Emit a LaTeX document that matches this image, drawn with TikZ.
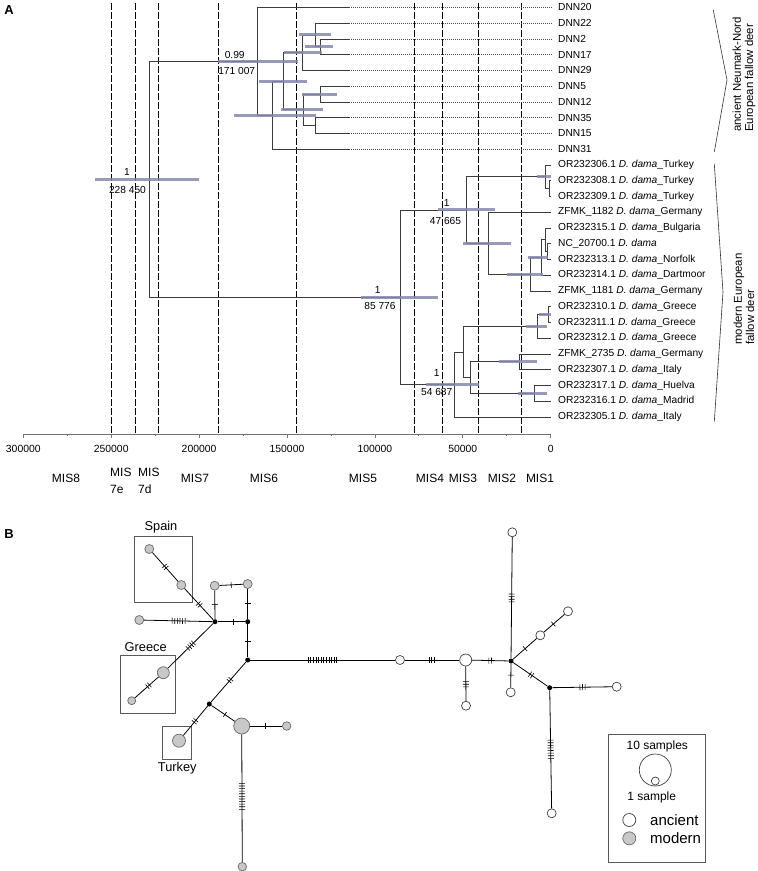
\documentclass[tikz,border=0pt]{standalone}
\usepackage{fontspec}
\setmainfont{Liberation Sans}
\usetikzlibrary{calc}
\definecolor{branch}{HTML}{3C3C3C}
\definecolor{hpd}{HTML}{8589AC}
\definecolor{modfill}{HTML}{C8C8C8}
\definecolor{nodeline}{HTML}{6A6A6A}
\newcommand\dd{\textit{D. dama}}
\newcommand\hatches[4]{%
  \foreach \hk in {1,...,#3}{%
    \pgfmathsetmacro\hoff{(\hk-(#3+1)/2)*2.6}%
    \coordinate (hc) at ($(#1)!#4!(#2)$);
    \coordinate (hq) at ($(hc)!\hoff pt!(#2)$);
    \draw[hatchline] ($(hq)!3pt!90:(#2)$) -- ($(hq)!3pt!-90:(#2)$);
  }}
\tikzset{
  br/.style={draw=branch, line width=0.8pt},
  hpdbar/.style={draw=hpd, line width=3pt, opacity=0.85},
  misline/.style={draw=black, line width=1pt, dash pattern=on 7pt off 2pt},
  dotln/.style={draw=black!70, line width=0.6pt, dash pattern=on 1pt off 1pt},
  tiplab/.style={anchor=west, inner sep=0, font=\fontsize{10.2}{12}\selectfont},
  ticklab/.style={inner sep=0, font=\fontsize{10.4}{12}\selectfont},
  mislab/.style={inner sep=0, font=\fontsize{12}{16.5}\selectfont},
  supl/.style={inner sep=0, font=\fontsize{10.2}{12}\selectfont},
  axisln/.style={draw=black!55, line width=0.8pt},
  bracketln/.style={draw=black!80, line width=0.6pt},
  cladelab/.style={inner sep=0, rotate=90, anchor=west, align=left, font=\fontsize{11.4}{12.3}\selectfont},
  gnode/.style={circle, draw=nodeline, fill=modfill, line width=0.7pt, inner sep=0, minimum size=#1},
  wnode/.style={circle, draw=black!75, fill=white, line width=0.7pt, inner sep=0, minimum size=#1},
  jn/.style={circle, fill=black, inner sep=0, minimum size=5pt},
  netedge/.style={draw=black, line width=0.8pt},
  hatchline/.style={draw=black, line width=0.6pt},
  regbox/.style={draw=black!65, line width=0.7pt},
  reglab/.style={inner sep=0, font=\fontsize{12.8}{14}\selectfont},
  leglab/.style={inner sep=0, font=\fontsize{12}{14}\selectfont},
  legbig/.style={inner sep=0, anchor=west, font=\fontsize{15}{17}\selectfont},
}
\begin{document}
\begin{tikzpicture}[x=1pt,y=-1pt]
\useasboundingbox (0,0) rectangle (758,871);
\fill[white] (0,0) rectangle (758,871);
% panel letters
\node[inner sep=0, font=\fontsize{13}{14}\selectfont\bfseries] (pA) at (9,10) {A};
\node[inner sep=0, font=\fontsize{13}{14}\selectfont\bfseries] (pB) at (9,534) {B};
% MIS dashed lines
\foreach \mx in {111.7,135,158.7,218.7,296.7,414.7,442.7,478.7,521.5}
  \draw[misline] (\mx,3) -- (\mx,433.7);
% axis
\draw[axisln] (23.3,434) -- (550.7,434);
\foreach \tx/\tl in {550.7/0, 462.8/50000, 374.9/100000, 287/150000, 199.1/200000, 111.2/250000, 23.3/300000}{
  \draw[axisln] (\tx,434) -- (\tx,437.5);
  \node[ticklab] at (\tx,449) {\tl};
}
\foreach \tx in {506.75,418.85,330.95,243.05,155.15,67.25}
  \draw[axisln] (\tx,434) -- (\tx,436);
% MIS labels
\node[mislab] (m8) at (66,478) {MIS8};
\node[mislab, anchor=west, align=left] (m7e) at (110,480.7) {MIS\\7e};
\node[mislab, anchor=west, align=left] (m7d) at (138,480.7) {MIS\\7d};
\node[mislab] (m7) at (195,478) {MIS7};
\node[mislab] (m6) at (264,478) {MIS6};
\node[mislab] (m5) at (363,478) {MIS5};
\node[mislab] (m4) at (430,478) {MIS4};
\node[mislab] (m3) at (463,478) {MIS3};
\node[mislab] (m2) at (502,478) {MIS2};
\node[mislab] (m1) at (540,478) {MIS1};
% ---------------- tree branches
% root
\draw[br] (257.5,61.3) -- (149,61.3) -- (149,297.18) -- (400,297.18);
% ancient clade
\draw[br] (349,7.4) -- (257.5,7.4) -- (257.5,115.19) -- (272.7,115.19);
\draw[br] (283.3,81.23) -- (272.7,81.23) -- (272.7,149.15) -- (349,149.15);
\draw[br] (302.7,52.68) -- (283.3,52.68) -- (283.3,109.78) -- (303.3,109.78);
\draw[br] (315.7,34.96) -- (302.7,34.96) -- (302.7,70.4) -- (349,70.4);
\draw[br] (349,23.15) -- (315.7,23.15) -- (315.7,46.78) -- (320.3,46.78);
\draw[br] (349,38.9) -- (320.3,38.9) -- (320.3,54.65) -- (349,54.65);
\draw[br] (320.7,94.03) -- (303.3,94.03) -- (303.3,125.53) -- (315.5,125.53);
\draw[br] (349,86.15) -- (320.7,86.15) -- (320.7,101.9) -- (349,101.9);
\draw[br] (349,117.65) -- (315.5,117.65) -- (315.5,133.4) -- (349,133.4);
\foreach \r in {0,...,9}
  \draw[dotln] (349,{7.4+15.75*\r}) -- (552,{7.4+15.75*\r});
% modern clade
\draw[br] (466.7,209.94) -- (400,209.94) -- (400,384.42) -- (454,384.42);
\draw[br] (545.7,176.71) -- (466.7,176.71) -- (466.7,243.16) -- (488.3,243.16);
\draw[br] (551,164.9) -- (545.7,164.9) -- (545.7,188.53) -- (549.5,188.53);
\draw[br] (551,180.65) -- (549.5,180.65) -- (549.5,196.4) -- (551,196.4);
\draw[br] (551,212.15) -- (488.3,212.15) -- (488.3,274.17) -- (530,274.17);
\draw[br] (541,257.43) -- (530,257.43) -- (530,290.9) -- (551,290.9);
\draw[br] (545,239.71) -- (541,239.71) -- (541,275.15) -- (551,275.15);
\draw[br] (551,227.9) -- (545,227.9) -- (545,251.53) -- (547.3,251.53);
\draw[br] (551,243.65) -- (547.3,243.65) -- (547.3,259.4) -- (551,259.4);
\draw[br] (463.3,351.94) -- (454,351.94) -- (454,416.9) -- (551,416.9);
\draw[br] (537.3,326.34) -- (463.3,326.34) -- (463.3,377.53) -- (470.7,377.53);
\draw[br] (548.3,314.53) -- (537.3,314.53) -- (537.3,338.15) -- (551,338.15);
\draw[br] (551,306.65) -- (548.3,306.65) -- (548.3,322.4) -- (551,322.4);
\draw[br] (519.3,361.78) -- (470.7,361.78) -- (470.7,393.28) -- (534,393.28);
\draw[br] (551,353.9) -- (519.3,353.9) -- (519.3,369.65) -- (551,369.65);
\draw[br] (551,385.4) -- (534,385.4) -- (534,401.15) -- (551,401.15);
% HPD bars
\foreach \by/\ba/\bb in {179.24/95/199.3, 61.3/218.3/297.7, 115.19/234/316, 81.23/259.3/306.7,
  52.68/284.3/321.7, 34.96/299.3/331, 46.78/305/333.3, 109.78/281/323.3, 94.03/301.7/337.3,
  297.18/361/437.7, 209.94/438.3/495, 176.71/536.7/550.7, 243.16/463.3/510.7, 274.17/507.3/543.3,
  257.43/528.3/548.3, 384.42/426/479, 326.34/525.7/546.7, 314.53/539.3/550.7, 361.78/499.3/536.7,
  393.28/518.3/546.7}
  \draw[hpdbar] (\ba,\by) -- (\bb,\by);
% support / age labels
\node[supl] (s1) at (127,171.7) {1};
\node[supl] (a1) at (127.5,190) {228 450};
\node[supl] (s2) at (234.7,55) {0.99};
\node[supl] (a2) at (236.7,71) {171 007};
\node[supl] (s3) at (377.7,290) {1};
\node[supl] (a3) at (380,306) {85 776};
\node[supl] (s4) at (446.7,202.7) {1};
\node[supl] (a4) at (445.5,221) {47 665};
\node[supl] (s5) at (436.7,373.3) {1};
\node[supl] (a5) at (436.7,392) {54 687};
% tip labels
\node[tiplab] (t0) at (558,7.4) {DNN20};
\node[tiplab] (t1) at (558,23.15) {DNN22};
\node[tiplab] (t2) at (558,38.9) {DNN2};
\node[tiplab] (t3) at (558,54.65) {DNN17};
\node[tiplab] (t4) at (558,70.4) {DNN29};
\node[tiplab] (t5) at (558,86.15) {DNN5};
\node[tiplab] (t6) at (558,101.9) {DNN12};
\node[tiplab] (t7) at (558,117.65) {DNN35};
\node[tiplab] (t8) at (558,133.4) {DNN15};
\node[tiplab] (t9) at (558,149.15) {DNN31};
\node[tiplab] (t10) at (558,164.9) {OR232306.1 \dd\_Turkey};
\node[tiplab] (t11) at (558,180.65) {OR232308.1 \dd\_Turkey};
\node[tiplab] (t12) at (558,196.4) {OR232309.1 \dd\_Turkey};
\node[tiplab] (t13) at (558,212.15) {ZFMK\_1182 \dd\_Germany};
\node[tiplab] (t14) at (558,227.9) {OR232315.1 \dd\_Bulgaria};
\node[tiplab] (t15) at (558,243.65) {NC\_20700.1 \dd};
\node[tiplab] (t16) at (558,259.4) {OR232313.1 \dd\_Norfolk};
\node[tiplab] (t17) at (558,275.15) {OR232314.1 \dd\_Dartmoor};
\node[tiplab] (t18) at (558,290.9) {ZFMK\_1181 \dd\_Germany};
\node[tiplab] (t19) at (558,306.65) {OR232310.1 \dd\_Greece};
\node[tiplab] (t20) at (558,322.4) {OR232311.1 \dd\_Greece};
\node[tiplab] (t21) at (558,338.15) {OR232312.1 \dd\_Greece};
\node[tiplab] (t22) at (558,353.9) {ZFMK\_2735 \dd\_Germany};
\node[tiplab] (t23) at (558,369.65) {OR232307.1 \dd\_Italy};
\node[tiplab] (t24) at (558,385.4) {OR232317.1 \dd\_Huelva};
\node[tiplab] (t25) at (558,401.15) {OR232316.1 \dd\_Madrid};
\node[tiplab] (t26) at (558,416.9) {OR232305.1 \dd\_Italy};
% clade brackets
\draw[bracketln] (713.3,10) -- (727,80) -- (714.3,152);
\draw[bracketln] (714.3,164) -- (723,292) -- (714.3,421.7);
\node[cladelab] (cl1) at (744,132) {ancient Neumark-Nord\\European fallow deer};
\node[cladelab] (cl2) at (744,345) {modern European\\fallow deer};
% ---------------- network (B)
\draw[regbox] (134.3,536) rectangle (192.3,602);
\draw[regbox] (120.7,655) rectangle (175.7,713.3);
\draw[regbox] (162.3,726.3) rectangle (191.7,759.3);
\node[reglab] (lsp) at (161,527.3) {Spain};
\node[reglab] (lgr) at (145.7,646.7) {Greece};
\node[reglab] (ltk) at (177.3,768.3) {Turkey};
\node[gnode=9pt] (sp1) at (149.3,549) {};
\node[gnode=9pt] (sp2) at (181.3,585) {};
\node[jn] (j1) at (215,621.7) {};
\node[gnode=9pt] (gl) at (139.3,620) {};
\node[gnode=9pt] (gu1) at (214.7,585.7) {};
\node[gnode=9pt] (gu2) at (247.7,584) {};
\node[jn] (j2) at (247.7,621.7) {};
\node[jn] (j3) at (247.7,660) {};
\node[gnode=12pt] (gr1) at (163.3,672.7) {};
\node[gnode=8pt] (gr2) at (131.7,700.7) {};
\node[jn] (j4) at (209.3,704) {};
\node[gnode=13pt] (tk) at (179,740.7) {};
\node[gnode=16pt] (bg) at (241.7,726) {};
\node[gnode=8.5pt] (brn) at (286.7,726) {};
\node[gnode=8.5pt] (bb) at (242.3,866.7) {};
\node[wnode=9pt] (w1) at (400,660) {};
\node[wnode=12pt] (w2) at (465.7,660) {};
\node[wnode=9pt] (w3) at (466,705.7) {};
\node[jn] (j5) at (511,661) {};
\node[wnode=9pt] (w4) at (512.3,532.3) {};
\node[wnode=9pt] (w5) at (510.7,692.3) {};
\node[wnode=9pt] (w6) at (540.3,635.3) {};
\node[wnode=9pt] (w7) at (568,611.3) {};
\node[jn] (j6) at (549.7,687.7) {};
\node[wnode=9pt] (w8) at (616.7,686.7) {};
\node[wnode=9pt] (w9) at (551.7,813.3) {};
\foreach \ea/\eb in {sp1/sp2, sp2/j1, gl/j1, gu1/j1, gu1/gu2, j1/j2, j2/gu2, j2/j3, j1/gr1, gr1/gr2,
  j3/j4, j4/tk, j4/bg, bg/brn, bg/bb, j3/w1, w1/w2, w2/w3, w2/j5, j5/w4, j5/w5, j5/w6, w6/w7, j5/j6, j6/w8, j6/w9}
  \draw[netedge] (\ea) -- (\eb);
\hatches{sp1}{sp2}{2}{0.5}
\hatches{sp2}{j1}{2}{0.53}
\hatches{gl}{j1}{6}{0.52}
\hatches{gu1}{j1}{1}{0.52}
\hatches{gu1}{gu2}{1}{0.5}
\hatches{j1}{j2}{1}{0.56}
\hatches{j2}{gu2}{1}{0.49}
\hatches{j2}{j3}{1}{0.5}
\hatches{j1}{gr1}{4}{0.47}
\hatches{gr1}{gr2}{2}{0.47}
\hatches{j3}{j4}{2}{0.46}
\hatches{j4}{tk}{2}{0.47}
\hatches{j4}{bg}{1}{0.48}
\hatches{bg}{brn}{1}{0.53}
\hatches{bg}{bb}{11}{0.5}
\hatches{j3}{w1}{12}{0.49}
\hatches{w1}{w2}{3}{0.48}
\hatches{w2}{w3}{3}{0.53}
\hatches{w2}{j5}{2}{0.54}
\hatches{j5}{w4}{4}{0.49}
\hatches{j5}{w5}{1}{0.45}
\hatches{j5}{w6}{1}{0.48}
\hatches{w6}{w7}{1}{0.47}
\hatches{j5}{j6}{2}{0.52}
\hatches{j6}{w8}{3}{0.49}
\hatches{j6}{w9}{8}{0.49}
% legend
\draw[regbox] (608.3,734.3) rectangle (705,862.7);
\node[leglab] (l10) at (657.3,746) {10 samples};
\draw[draw=black!75, fill=white, line width=0.7pt] (655.3,770) circle (16pt);
\draw[draw=black!75, fill=white, line width=0.7pt] (655.3,781) circle (4pt);
\node[leglab] (l1) at (651.7,797.3) {1 sample};
\node[wnode=13pt] (lw) at (629.3,820) {};
\node[gnode=13pt] (lg) at (629.3,838.3) {};
\node[legbig] (lan) at (650,820) {ancient};
\node[legbig] (lmo) at (650,838.3) {modern};
\end{tikzpicture}
\end{document}
